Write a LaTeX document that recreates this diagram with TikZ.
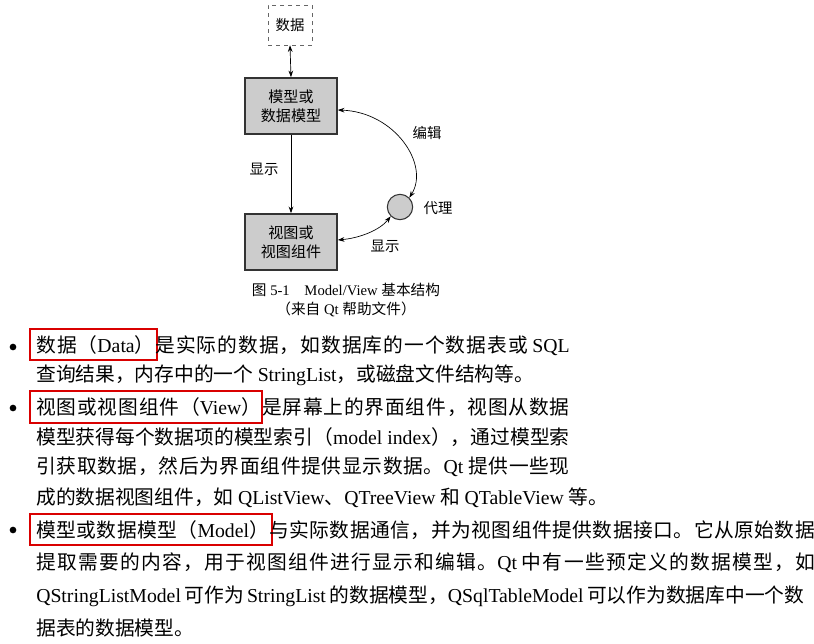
\documentclass[tikz,border=0pt]{standalone}
\usepackage{fontspec}
\setmainfont{Liberation Serif}
\newfontfamily\cjk{Noto Sans CJK SC}
\usetikzlibrary{arrows.meta}
\newcount\mycc
\mycc="4E00
\loop\ifnum\mycc<"A000 \XeTeXcharclass\mycc=1 \advance\mycc by 1 \repeat
\XeTeXcharclass"FF08=1 \XeTeXcharclass"FF09=1 \XeTeXcharclass"FF0C=1
\XeTeXcharclass"3001=1 \XeTeXcharclass"3002=1
\XeTeXinterchartokenstate=1
\XeTeXinterchartoks 1 1 = {\hskip0pt plus 1fil\relax}
\XeTeXinterchartoks 0 1 = {\hskip0pt plus 1fil\relax}
\XeTeXinterchartoks 1 0 = {\hskip0pt plus 1fil\relax}
\newcommand{\jline}[2]{\makebox[#1][s]{#2}}
\begin{document}
\begin{tikzpicture}[x=0.75pt,y=-0.75pt,
  box/.style={draw=black!80,line width=1.2pt,fill=black!20,minimum width=69pt,minimum height=42pt,align=center,font=\cjk\fontsize{11.3}{14}\selectfont},
  lbl/.style={font=\cjk\fontsize{10.8}{12}\selectfont},
  arr/.style={-{Stealth[length=5pt,width=3.5pt]},line width=0.5pt},
  darr/.style={{Stealth[length=5pt,width=3.5pt]}-{Stealth[length=5pt,width=3.5pt]},line width=0.5pt},
  txt/.style={anchor=west,inner sep=0pt,font=\cjk\fontsize{14.8}{16}\selectfont},
  redbox/.style={draw=red!85!black,line width=1.3pt},
  bul/.style={circle,fill=black,inner sep=0pt,minimum size=5pt}]
\useasboundingbox (0,0) rectangle (814,643);
\node[draw=black!60,dashed,minimum width=33pt,minimum height=30pt,lbl] (data) at (290,25) {数据};
\node[box] (model) at (291,106) {模型或\\数据模型};
\node[box] (view) at (291,242) {视图或\\视图组件};
\node[circle,draw=black!80,fill=black!20,line width=0.8pt,minimum size=19pt,inner sep=0pt] (proxy) at (400,207) {};
\draw[darr] (data.south) -- (model.north);
\draw[arr] (model.south) -- (view.north);
\draw[darr] (model.east |- 0,110) .. controls (395,112) and (430,165) .. (proxy.north east);
\draw[darr] (view.east |- 0,240) .. controls (360,238) and (380,230) .. (proxy.south west);
\node[lbl] (bj) at (427,133) {编辑};
\node[lbl] (xs1) at (264,169) {显示};
\node[lbl] (dl) at (438,208) {代理};
\node[lbl] (xs2) at (385,246) {显示};
\node[font=\fontsize{11}{12}\selectfont] (cap1) at (346,290) {{\cjk 图} 5-1\quad Model/View {\cjk 基本结构}};
\node[font=\fontsize{11}{12}\selectfont] (cap2) at (346,309) {{\cjk （来自} Qt {\cjk 帮助文件）}};
% bullets
\node[bul] (b1) at (13,347) {};
\node[bul] (b2) at (13,408) {};
\node[bul] (b3) at (13,530) {};
\draw[redbox] (30,329) rectangle (157,360);
\draw[redbox] (30,391) rectangle (262,423);
\draw[redbox] (30,514) rectangle (272,545);
\node[txt] (l1) at (36,346) {\jline{400pt}{数据（\rmfamily Data\cjk ）是实际的数据，如数据库的一个数据表或 \rmfamily SQL}};
\node[txt] (l2) at (36,375) {查询结果，内存中的一个 \rmfamily StringList\cjk ，或磁盘文件结构等。};
\node[txt] (l3) at (36,407) {\jline{400pt}{视图或视图组件（\rmfamily View\cjk ）是屏幕上的界面组件，视图从数据}};
\node[txt] (l4) at (36,437) {\jline{400pt}{模型获得每个数据项的模型索引（\rmfamily model index\cjk ），通过模型索}};
\node[txt] (l5) at (36,467) {\jline{400pt}{引获取数据，然后为界面组件提供显示数据。\rmfamily Qt \cjk 提供一些现}};
\node[txt] (l6) at (36,498) {成的数据视图组件，如 \rmfamily QListView\cjk 、\rmfamily QTreeView \cjk 和 \rmfamily QTableView \cjk 等。};
\node[txt] (l7) at (36,530) {\jline{584pt}{模型或数据模型（\rmfamily Model\cjk ）与实际数据通信，并为视图组件提供数据接口。它从原始数据}};
\node[txt] (l8) at (36,563) {\jline{584pt}{提取需要的内容，用于视图组件进行显示和编辑。\rmfamily Qt \cjk 中有一些预定义的数据模型，如}};
\node[txt] (l9) at (36,596) {\jline{576pt}{\rmfamily QStringListModel \cjk 可作为 \rmfamily StringList \cjk 的数据模型，\rmfamily QSqlTableModel \cjk 可以作为数据库中一个数}};
\node[txt] (l10) at (36,628) {据表的数据模型。};
\end{tikzpicture}
\end{document}
